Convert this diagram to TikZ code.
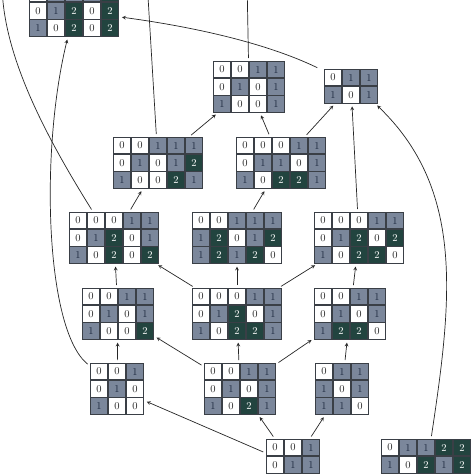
\documentclass[tikz,border=0pt]{standalone}
\usepackage{xcolor}
\usepackage{tikz}
\usetikzlibrary{shapes,arrows,positioning,matrix}

\definecolor{slate}{HTML}{7B879B}
\definecolor{pine}{HTML}{22443F}
\definecolor{ink}{HTML}{1E2A40}
\definecolor{rule}{HTML}{3A3F46}

\tikzset{
  grid/.style={matrix of nodes, anchor=north west, inner sep=0pt, outer sep=0pt,
    column sep=0pt, row sep=0pt,
    nodes={draw=rule, line width=0.8pt, minimum width=17.2pt, minimum height=16.4pt,
      inner sep=0pt, outer sep=0pt, fill=white, text=black!85, anchor=center,
      font=\fontsize{10.5}{10.5}\selectfont}},
  g/.style={fill=slate, text=ink},
  d/.style={fill=pine, text=white},
  link/.style={draw=black!85, line width=0.7pt, ->, >=stealth, shorten >=3pt, shorten <=3pt}
}

\begin{document}
\begin{tikzpicture}[x=1pt, y=-1pt]
  \useasboundingbox (0,0) rectangle (474,474);
  \fill[white] (0,0) rectangle (474,474);
  \clip (0,0) rectangle (474,474);

  \matrix (s0a) [grid] at (29,-15) {
    0 & |[g]| 1 & |[g]| 1 & |[g]| 1 & |[d]| 2 \\
    0 & |[g]| 1 & |[d]| 2 & 0 & |[d]| 2 \\
    |[g]| 1 & 0 & |[d]| 2 & 0 & |[d]| 2 \\
  };
  \matrix (s1a) [grid] at (213,61) {
    0 & 0 & |[g]| 1 & |[g]| 1 \\
    0 & |[g]| 1 & 0 & |[g]| 1 \\
    |[g]| 1 & 0 & 0 & |[g]| 1 \\
  };
  \matrix (s1b) [grid] at (324,69) {
    0 & |[g]| 1 & |[g]| 1 \\
    |[g]| 1 & 0 & |[g]| 1 \\
  };
  \matrix (s2a) [grid] at (113,137) {
    0 & 0 & |[g]| 1 & |[g]| 1 & |[g]| 1 \\
    0 & |[g]| 1 & 0 & |[g]| 1 & |[d]| 2 \\
    |[g]| 1 & 0 & 0 & |[d]| 2 & |[g]| 1 \\
  };
  \matrix (s2b) [grid] at (236,137) {
    0 & 0 & 0 & |[g]| 1 & |[g]| 1 \\
    0 & |[g]| 1 & |[g]| 1 & 0 & |[g]| 1 \\
    |[g]| 1 & 0 & |[d]| 2 & |[d]| 2 & |[g]| 1 \\
  };
  \matrix (s3a) [grid] at (69,212) {
    0 & 0 & 0 & |[g]| 1 & |[g]| 1 \\
    0 & |[g]| 1 & |[d]| 2 & 0 & |[g]| 1 \\
    |[g]| 1 & 0 & |[d]| 2 & 0 & |[d]| 2 \\
  };
  \matrix (s3b) [grid] at (192,212) {
    0 & 0 & |[g]| 1 & |[g]| 1 & |[g]| 1 \\
    |[g]| 1 & |[d]| 2 & 0 & |[g]| 1 & |[d]| 2 \\
    |[g]| 1 & |[d]| 2 & |[g]| 1 & |[d]| 2 & 0 \\
  };
  \matrix (s3c) [grid] at (314,212) {
    0 & 0 & 0 & |[g]| 1 & |[g]| 1 \\
    0 & |[g]| 1 & |[d]| 2 & 0 & |[d]| 2 \\
    |[g]| 1 & 0 & |[d]| 2 & |[d]| 2 & 0 \\
  };
  \matrix (s4a) [grid] at (82,288) {
    0 & 0 & |[g]| 1 & |[g]| 1 \\
    0 & |[g]| 1 & 0 & |[g]| 1 \\
    |[g]| 1 & 0 & 0 & |[d]| 2 \\
  };
  \matrix (s4b) [grid] at (192,288) {
    0 & 0 & 0 & |[g]| 1 & |[g]| 1 \\
    0 & |[g]| 1 & |[d]| 2 & 0 & |[g]| 1 \\
    |[g]| 1 & 0 & |[d]| 2 & |[d]| 2 & |[g]| 1 \\
  };
  \matrix (s4c) [grid] at (314,288) {
    0 & 0 & |[g]| 1 & |[g]| 1 \\
    0 & |[g]| 1 & 0 & |[g]| 1 \\
    |[g]| 1 & |[d]| 2 & |[d]| 2 & 0 \\
  };
  \matrix (s5a) [grid] at (90,363) {
    0 & 0 & |[g]| 1 \\
    0 & |[g]| 1 & 0 \\
    |[g]| 1 & 0 & 0 \\
  };
  \matrix (s5b) [grid] at (204,363) {
    0 & 0 & |[g]| 1 & |[g]| 1 \\
    0 & |[g]| 1 & 0 & |[g]| 1 \\
    |[g]| 1 & 0 & |[d]| 2 & |[g]| 1 \\
  };
  \matrix (s5c) [grid] at (315,363) {
    0 & |[g]| 1 & |[g]| 1 \\
    |[g]| 1 & 0 & |[g]| 1 \\
    |[g]| 1 & |[g]| 1 & 0 \\
  };
  \matrix (s6a) [grid] at (266,439) {
    0 & 0 & |[g]| 1 \\
    0 & |[g]| 1 & |[g]| 1 \\
    |[d]| 2 & 0 & |[g]| 1 \\
  };
  \matrix (s6b) [grid] at (381,439) {
    0 & |[g]| 1 & |[g]| 1 & |[d]| 2 & |[d]| 2 \\
    |[g]| 1 & 0 & |[d]| 2 & |[g]| 1 & |[d]| 2 \\
    |[d]| 2 & |[d]| 2 & |[g]| 1 & |[g]| 1 & 0 \\
  };

  \coordinate (offB) at (247,-20);
  \coordinate (offC) at (147,-20);
  \coordinate (offD) at (2,-20);

  \draw[link] (s6a) -- (s5a);
  \draw[link] (s6a) -- (s5b);
  \draw[link] (s6a) -- (s5c);
  \draw[link] (s5a) -- (s4a);
  \draw[link] (s5b) -- (s4a);
  \draw[link] (s5b) -- (s4b);
  \draw[link] (s5b) -- (s4c);
  \draw[link] (s5c) -- (s4c);
  \draw[link] (s4a) -- (s3a);
  \draw[link] (s4b) -- (s3a);
  \draw[link] (s4b) -- (s3b);
  \draw[link] (s4b) -- (s3c);
  \draw[link] (s4c) -- (s3c);
  \draw[link] (s3a) -- (s2a);
  \draw[link] (s3b) -- (s2b);
  \draw[link] (s3c) -- (s1b);
  \draw[link] (s2a) -- (s1a);
  \draw[link] (s2b) -- (s1a);
  \draw[link] (s2b) -- (s1b);
  \draw[link] (s1a) -- (offB);
  \draw[link] (s2a) -- (offC);
  \draw[link] (s3a.129) .. controls (45,135) and (3,55) .. (offD);
  \draw[link] ([yshift=-3pt]s5a.north west) .. controls (45,330) and (40,150) .. ([xshift=-6pt]s0a.south);
  \draw[link] ([xshift=-4pt]s1b.north west) .. controls (260,40) and (180,25) .. ([yshift=-6pt]s0a.east);
  \draw[link] ([xshift=5pt]s6b.north) .. controls (452,300) and (465,190) .. ([xshift=-3pt]s1b.south east);
\end{tikzpicture}
\end{document}
